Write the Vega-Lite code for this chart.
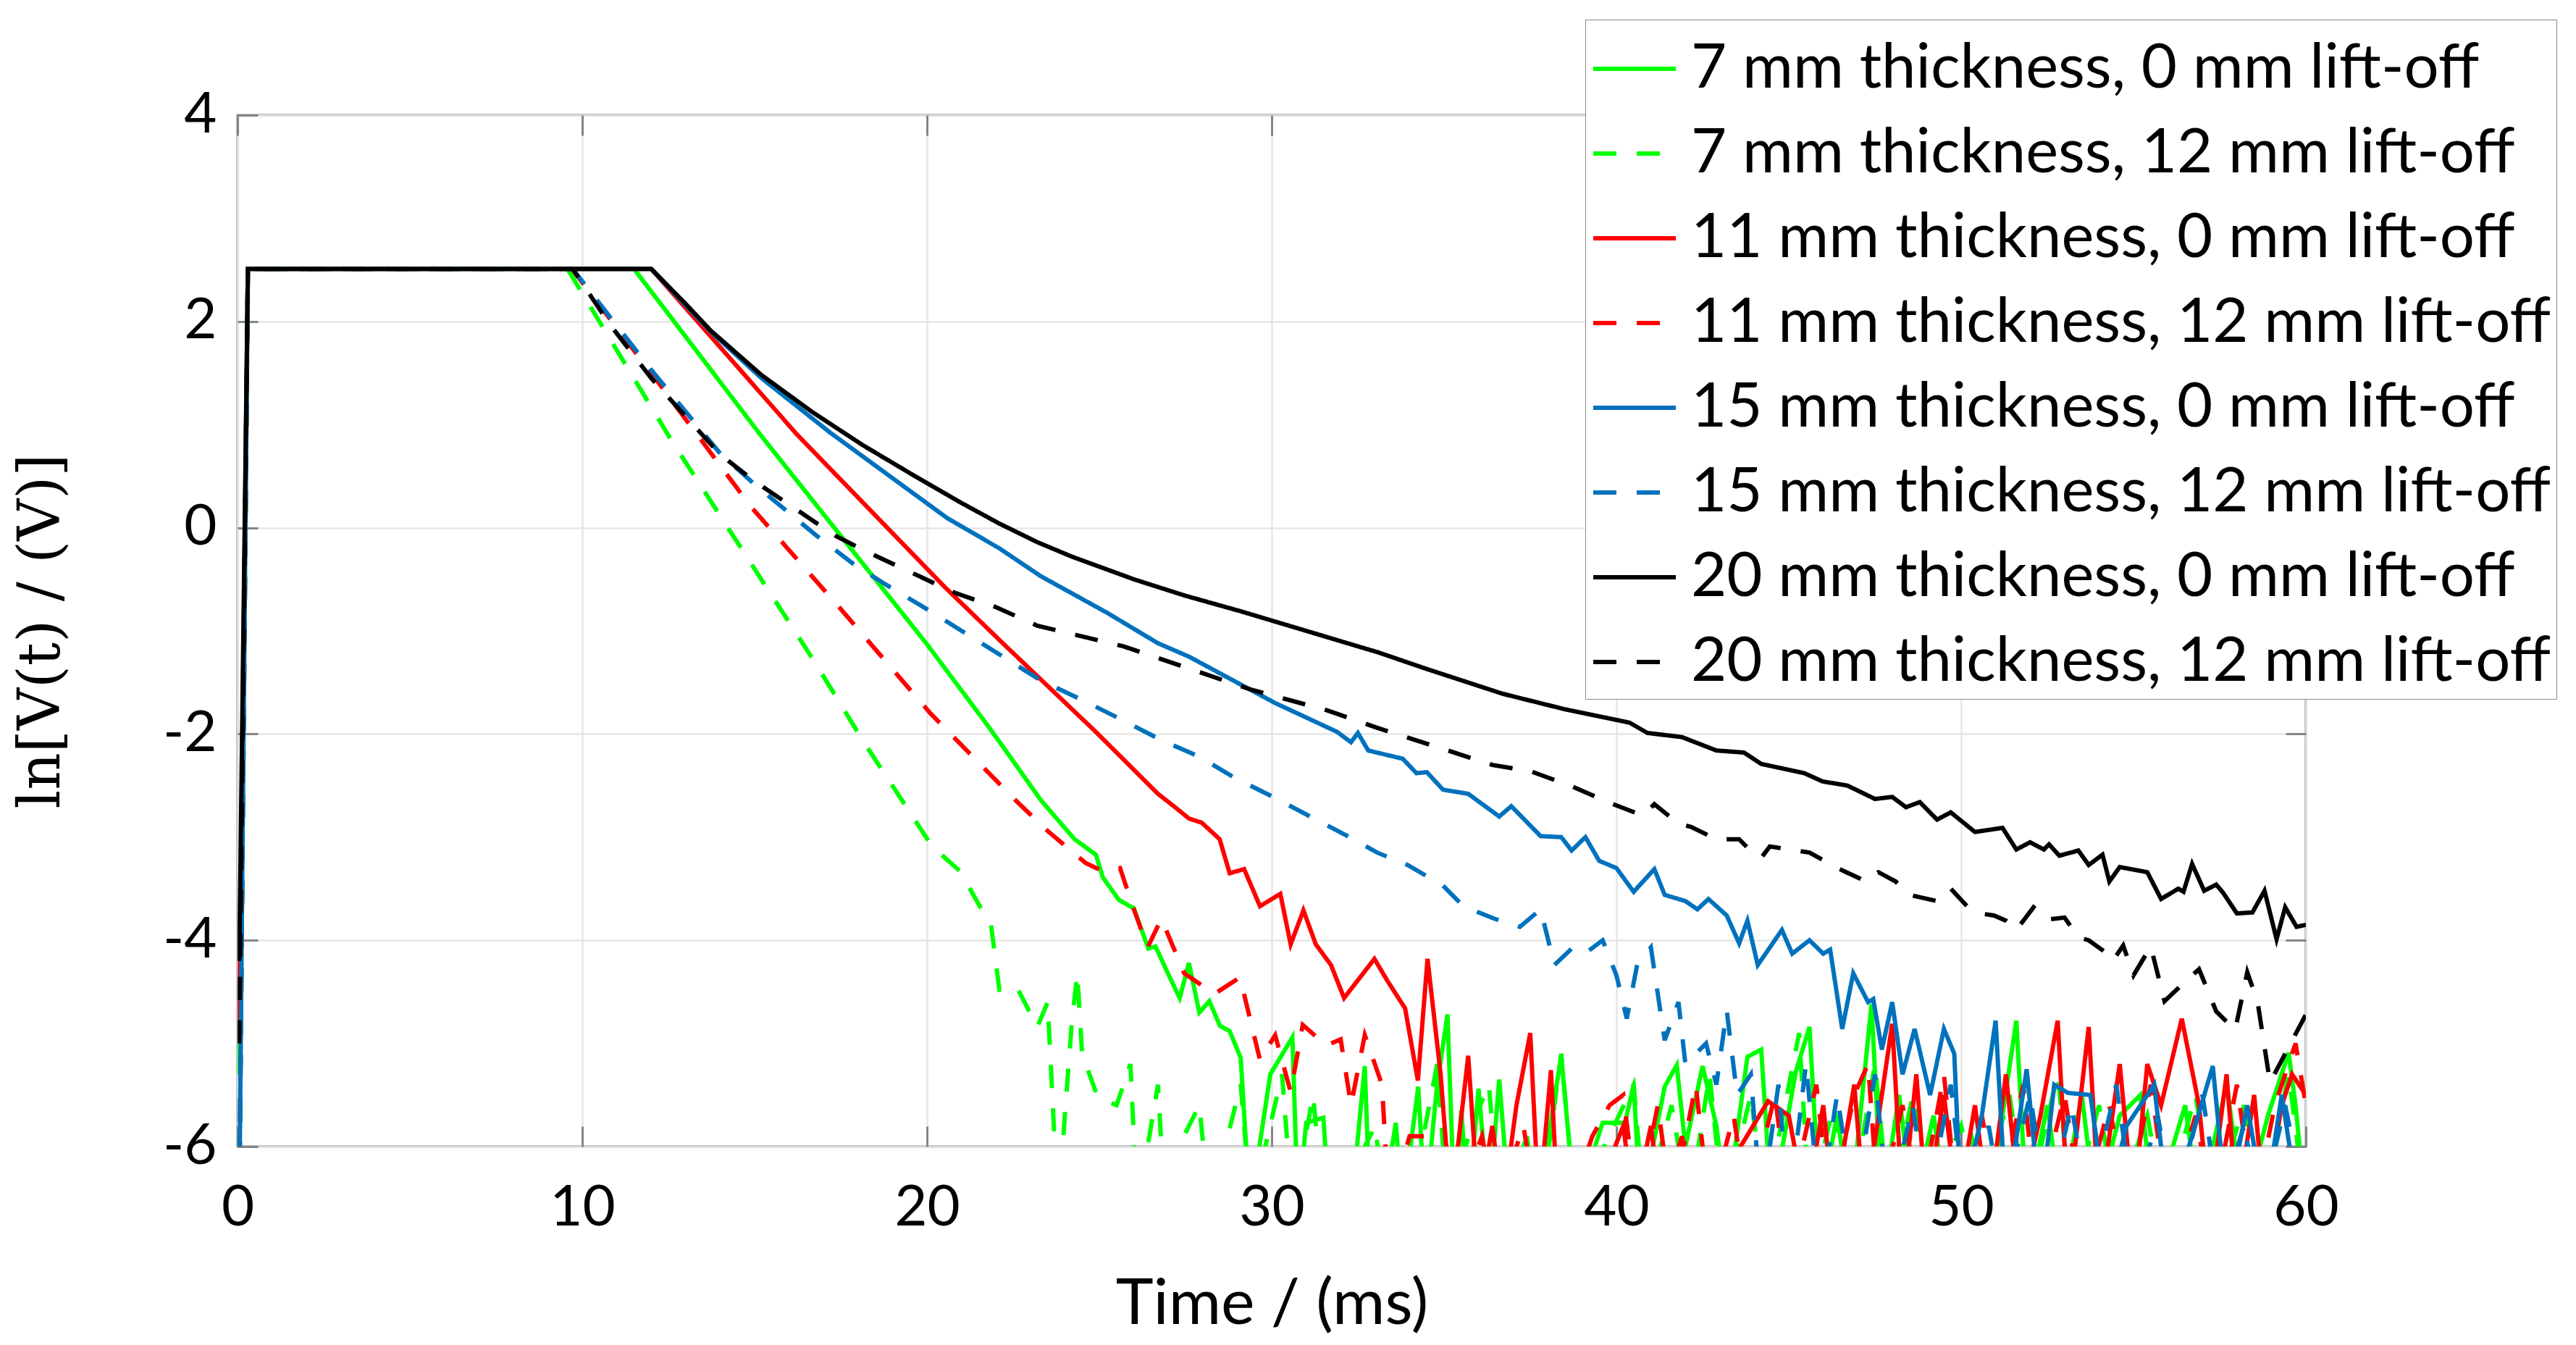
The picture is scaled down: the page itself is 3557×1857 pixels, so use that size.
{
  "$schema": "https://vega.github.io/schema/vega-lite/v6.json",
  "description": "ln V(t) decay curves",
  "width": 2856,
  "height": 1424,
  "autosize": {"type": "none"},
  "padding": {"left": 328, "top": 159, "right": 373, "bottom": 274},
  "background": "white",
  "config": {"view": {"stroke": "#858585", "strokeWidth": 3}, "font": "Lato"},
  "datasets": {
    "names": [
      {"s": "s1", "name": "7 mm thickness, 0 mm lift-off"},
      {"s": "s2", "name": "7 mm thickness, 12 mm lift-off"},
      {"s": "s3", "name": "11 mm thickness, 0 mm lift-off"},
      {"s": "s4", "name": "11 mm thickness, 12 mm lift-off"},
      {"s": "s5", "name": "15 mm thickness, 0 mm lift-off"},
      {"s": "s6", "name": "15 mm thickness, 12 mm lift-off"},
      {"s": "s7", "name": "20 mm thickness, 0 mm lift-off"},
      {"s": "s8", "name": "20 mm thickness, 12 mm lift-off"}
    ],
    "pts": [
      {"s":"s1","t":0.05,"v":-5.3},{"s":"s1","t":0.3,"v":2.51},{"s":"s1","t":11.5,"v":2.51},{"s":"s1","t":15.17,"v":0.9},
      {"s":"s1","t":20.0,"v":-1.13},{"s":"s1","t":21.7,"v":-1.89},{"s":"s1","t":22.24,"v":-2.14},{"s":"s1","t":23.3,"v":-2.64},
      {"s":"s1","t":24.28,"v":-3.02},{"s":"s1","t":24.9,"v":-3.17},{"s":"s1","t":25.1,"v":-3.39},{"s":"s1","t":25.57,"v":-3.61},
      {"s":"s1","t":26.0,"v":-3.69},{"s":"s1","t":26.42,"v":-4.08},{"s":"s1","t":26.63,"v":-4.06},{"s":"s1","t":26.96,"v":-4.3},
      {"s":"s1","t":27.33,"v":-4.56},{"s":"s1","t":27.6,"v":-4.22},{"s":"s1","t":27.9,"v":-4.7},{"s":"s1","t":28.19,"v":-4.59},
      {"s":"s1","t":28.5,"v":-4.83},{"s":"s1","t":28.78,"v":-4.88},{"s":"s1","t":29.1,"v":-5.14},{"s":"s1","t":29.37,"v":-6.6},
      {"s":"s1","t":29.96,"v":-5.3},{"s":"s1","t":30.6,"v":-4.94},{"s":"s1","t":30.76,"v":-6.6},{"s":"s1","t":31.0,"v":-5.77},
      {"s":"s1","t":31.5,"v":-5.72},{"s":"s1","t":31.67,"v":-6.6},{"s":"s1","t":32.3,"v":-6.6},{"s":"s1","t":32.7,"v":-5.22},
      {"s":"s1","t":32.85,"v":-6.6},{"s":"s1","t":33.3,"v":-6.4},{"s":"s1","t":33.6,"v":-5.77},{"s":"s1","t":33.8,"v":-6.6},
      {"s":"s1","t":34.25,"v":-5.42},{"s":"s1","t":34.45,"v":-6.6},{"s":"s1","t":34.8,"v":-5.4},{"s":"s1","t":35.1,"v":-4.72},
      {"s":"s1","t":35.3,"v":-6.6},{"s":"s1","t":35.5,"v":-5.65},{"s":"s1","t":35.7,"v":-6.6},{"s":"s1","t":36.0,"v":-5.44},
      {"s":"s1","t":36.3,"v":-6.6},{"s":"s1","t":36.6,"v":-5.35},{"s":"s1","t":36.9,"v":-6.6},{"s":"s1","t":37.4,"v":-5.9},
      {"s":"s1","t":37.7,"v":-6.6},{"s":"s1","t":38.4,"v":-5.12},{"s":"s1","t":38.8,"v":-6.6},{"s":"s1","t":39.6,"v":-5.77},
      {"s":"s1","t":40.25,"v":-5.77},{"s":"s1","t":40.5,"v":-5.4},{"s":"s1","t":40.7,"v":-6.6},{"s":"s1","t":41.4,"v":-5.42},
      {"s":"s1","t":41.75,"v":-5.21},{"s":"s1","t":42.0,"v":-6.0},{"s":"s1","t":42.5,"v":-5.22},{"s":"s1","t":42.9,"v":-5.8},
      {"s":"s1","t":43.2,"v":-6.6},{"s":"s1","t":43.8,"v":-5.13},{"s":"s1","t":44.2,"v":-5.06},{"s":"s1","t":44.5,"v":-6.6},
      {"s":"s1","t":45.2,"v":-5.28},{"s":"s1","t":45.6,"v":-4.84},{"s":"s1","t":45.9,"v":-6.6},{"s":"s1","t":46.4,"v":-5.7},
      {"s":"s1","t":46.8,"v":-6.6},{"s":"s1","t":47.4,"v":-4.62},{"s":"s1","t":47.7,"v":-6.6},{"s":"s1","t":48.2,"v":-5.5},
      {"s":"s1","t":48.6,"v":-6.6},{"s":"s1","t":49.2,"v":-5.7},{"s":"s1","t":49.6,"v":-6.6},{"s":"s1","t":50.3,"v":-5.9},
      {"s":"s1","t":50.8,"v":-6.6},{"s":"s1","t":51.6,"v":-4.78},{"s":"s1","t":51.9,"v":-6.6},{"s":"s1","t":52.5,"v":-5.6},
      {"s":"s1","t":52.9,"v":-6.6},{"s":"s1","t":53.5,"v":-5.5},{"s":"s1","t":53.9,"v":-6.6},{"s":"s1","t":54.6,"v":-5.7},
      {"s":"s1","t":55.2,"v":-5.5},{"s":"s1","t":55.6,"v":-6.6},{"s":"s1","t":56.5,"v":-5.6},{"s":"s1","t":56.9,"v":-6.6},
      {"s":"s1","t":57.7,"v":-5.4},{"s":"s1","t":58.2,"v":-6.6},{"s":"s1","t":58.9,"v":-5.7},{"s":"s1","t":59.5,"v":-5.09},
      {"s":"s1","t":59.7,"v":-5.6},{"s":"s1","t":60,"v":-6.6},

      {"s":"s2","t":0.05,"v":-6.6},{"s":"s2","t":0.3,"v":2.51},{"s":"s2","t":9.57,"v":2.51},{"s":"s2","t":12.6,"v":0.84},
      {"s":"s2","t":16.72,"v":-1.29},{"s":"s2","t":18.17,"v":-2.08},{"s":"s2","t":20.15,"v":-3.09},{"s":"s2","t":20.96,"v":-3.33},
      {"s":"s2","t":21.6,"v":-3.71},{"s":"s2","t":21.85,"v":-3.83},{"s":"s2","t":22.1,"v":-4.48},{"s":"s2","t":22.6,"v":-4.45},
      {"s":"s2","t":23.2,"v":-4.84},{"s":"s2","t":23.5,"v":-4.6},{"s":"s2","t":23.8,"v":-6.6},{"s":"s2","t":24.2,"v":-4.8},
      {"s":"s2","t":24.36,"v":-4.32},{"s":"s2","t":24.5,"v":-5.1},{"s":"s2","t":24.95,"v":-5.52},{"s":"s2","t":25.5,"v":-5.6},
      {"s":"s2","t":25.9,"v":-5.2},{"s":"s2","t":26.1,"v":-6.6},{"s":"s2","t":26.7,"v":-5.4},{"s":"s2","t":26.9,"v":-6.6},
      {"s":"s2","t":27.3,"v":-6.0},{"s":"s2","t":27.9,"v":-5.6},{"s":"s2","t":28.2,"v":-6.6},{"s":"s2","t":29.1,"v":-5.4},
      {"s":"s2","t":29.4,"v":-6.6},{"s":"s2","t":30.3,"v":-5.3},{"s":"s2","t":30.6,"v":-6.6},{"s":"s2","t":31.2,"v":-5.5},
      {"s":"s2","t":31.5,"v":-6.6},{"s":"s2","t":32.4,"v":-6.2},{"s":"s2","t":33.0,"v":-5.8},{"s":"s2","t":33.3,"v":-6.6},
      {"s":"s2","t":34.0,"v":-6.6},{"s":"s2","t":34.8,"v":-5.2},{"s":"s2","t":35.1,"v":-6.6},{"s":"s2","t":35.8,"v":-5.8},
      {"s":"s2","t":36.3,"v":-5.4},{"s":"s2","t":36.6,"v":-6.6},{"s":"s2","t":37.3,"v":-6.0},{"s":"s2","t":37.8,"v":-6.6},
      {"s":"s2","t":38.4,"v":-5.1},{"s":"s2","t":38.8,"v":-6.6},{"s":"s2","t":39.5,"v":-6.1},{"s":"s2","t":40.5,"v":-5.4},
      {"s":"s2","t":40.8,"v":-6.6},{"s":"s2","t":41.6,"v":-5.6},{"s":"s2","t":42.1,"v":-6.6},{"s":"s2","t":42.7,"v":-5.3},
      {"s":"s2","t":43.1,"v":-6.6},{"s":"s2","t":43.9,"v":-5.5},{"s":"s2","t":44.3,"v":-6.6},{"s":"s2","t":45.3,"v":-4.9},
      {"s":"s2","t":45.6,"v":-6.6},{"s":"s2","t":46.3,"v":-5.6},{"s":"s2","t":46.8,"v":-6.6},{"s":"s2","t":47.5,"v":-5.2},
      {"s":"s2","t":47.9,"v":-6.6},{"s":"s2","t":48.6,"v":-5.5},{"s":"s2","t":49.0,"v":-6.6},{"s":"s2","t":50.0,"v":-5.8},
      {"s":"s2","t":50.5,"v":-6.6},{"s":"s2","t":51.4,"v":-5.5},{"s":"s2","t":51.9,"v":-6.6},{"s":"s2","t":52.8,"v":-5.3},
      {"s":"s2","t":53.2,"v":-6.6},{"s":"s2","t":54.0,"v":-5.6},{"s":"s2","t":54.5,"v":-6.6},{"s":"s2","t":55.4,"v":-5.7},
      {"s":"s2","t":55.9,"v":-6.6},{"s":"s2","t":56.8,"v":-5.5},{"s":"s2","t":57.3,"v":-6.6},{"s":"s2","t":58.2,"v":-5.6},
      {"s":"s2","t":58.7,"v":-6.6},{"s":"s2","t":59.5,"v":-5.3},{"s":"s2","t":60,"v":-6.6},

      {"s":"s3","t":0.05,"v":-4.8},{"s":"s3","t":0.3,"v":2.51},{"s":"s3","t":12.0,"v":2.51},{"s":"s3","t":16.24,"v":0.9},
      {"s":"s3","t":20.5,"v":-0.57},{"s":"s3","t":22.23,"v":-1.13},{"s":"s3","t":24.9,"v":-1.98},{"s":"s3","t":26.7,"v":-2.58},
      {"s":"s3","t":27.16,"v":-2.7},{"s":"s3","t":27.6,"v":-2.82},{"s":"s3","t":27.97,"v":-2.86},{"s":"s3","t":28.49,"v":-3.02},
      {"s":"s3","t":28.78,"v":-3.35},{"s":"s3","t":29.2,"v":-3.31},{"s":"s3","t":29.66,"v":-3.67},{"s":"s3","t":30.25,"v":-3.55},
      {"s":"s3","t":30.55,"v":-4.04},{"s":"s3","t":30.92,"v":-3.71},{"s":"s3","t":31.28,"v":-4.04},{"s":"s3","t":31.72,"v":-4.24},
      {"s":"s3","t":32.1,"v":-4.56},{"s":"s3","t":32.98,"v":-4.18},{"s":"s3","t":33.35,"v":-4.39},{"s":"s3","t":33.87,"v":-4.66},
      {"s":"s3","t":34.24,"v":-5.36},{"s":"s3","t":34.52,"v":-4.18},{"s":"s3","t":34.9,"v":-5.3},{"s":"s3","t":35.2,"v":-6.6},
      {"s":"s3","t":35.7,"v":-5.12},{"s":"s3","t":36.0,"v":-6.6},{"s":"s3","t":36.4,"v":-5.8},{"s":"s3","t":36.7,"v":-6.6},
      {"s":"s3","t":37.1,"v":-5.6},{"s":"s3","t":37.5,"v":-4.9},{"s":"s3","t":37.75,"v":-6.6},{"s":"s3","t":38.1,"v":-5.26},
      {"s":"s3","t":38.3,"v":-6.6},{"s":"s3","t":39.0,"v":-6.6},{"s":"s3","t":39.6,"v":-6.3},{"s":"s3","t":40.2,"v":-5.8},
      {"s":"s3","t":40.5,"v":-6.6},{"s":"s3","t":41.0,"v":-5.8},{"s":"s3","t":41.3,"v":-6.6},{"s":"s3","t":41.9,"v":-5.9},
      {"s":"s3","t":42.3,"v":-6.6},{"s":"s3","t":43.2,"v":-6.4},{"s":"s3","t":43.6,"v":-6.0},{"s":"s3","t":44.4,"v":-5.56},
      {"s":"s3","t":45.0,"v":-5.7},{"s":"s3","t":45.5,"v":-6.6},{"s":"s3","t":46.0,"v":-5.6},{"s":"s3","t":46.3,"v":-6.6},
      {"s":"s3","t":46.9,"v":-5.4},{"s":"s3","t":47.2,"v":-6.6},{"s":"s3","t":47.7,"v":-5.5},{"s":"s3","t":48.0,"v":-4.81},
      {"s":"s3","t":48.3,"v":-6.6},{"s":"s3","t":48.7,"v":-5.3},{"s":"s3","t":49.0,"v":-6.6},{"s":"s3","t":49.5,"v":-5.5},
      {"s":"s3","t":49.9,"v":-6.6},{"s":"s3","t":50.4,"v":-5.6},{"s":"s3","t":50.8,"v":-6.6},{"s":"s3","t":51.3,"v":-5.3},
      {"s":"s3","t":51.7,"v":-6.6},{"s":"s3","t":52.3,"v":-5.7},{"s":"s3","t":52.8,"v":-4.78},{"s":"s3","t":53.1,"v":-6.6},
      {"s":"s3","t":53.7,"v":-4.84},{"s":"s3","t":54.0,"v":-6.6},{"s":"s3","t":54.6,"v":-5.2},{"s":"s3","t":55.0,"v":-6.6},
      {"s":"s3","t":55.4,"v":-5.2},{"s":"s3","t":55.8,"v":-5.6},{"s":"s3","t":56.4,"v":-4.76},{"s":"s3","t":56.9,"v":-5.6},
      {"s":"s3","t":57.2,"v":-6.6},{"s":"s3","t":57.7,"v":-5.3},{"s":"s3","t":58.0,"v":-6.6},{"s":"s3","t":58.5,"v":-5.5},
      {"s":"s3","t":58.8,"v":-6.6},{"s":"s3","t":59.3,"v":-5.6},{"s":"s3","t":59.6,"v":-5.3},{"s":"s3","t":60,"v":-5.5},

      {"s":"s4","t":0.05,"v":-6.6},{"s":"s4","t":0.3,"v":2.51},{"s":"s4","t":9.7,"v":2.51},{"s":"s4","t":12.0,"v":1.5},
      {"s":"s4","t":14.9,"v":0.2},{"s":"s4","t":17.4,"v":-0.75},{"s":"s4","t":20.1,"v":-1.8},{"s":"s4","t":22.56,"v":-2.64},
      {"s":"s4","t":23.5,"v":-2.94},{"s":"s4","t":24.6,"v":-3.25},{"s":"s4","t":25.1,"v":-3.33},{"s":"s4","t":25.6,"v":-3.3},
      {"s":"s4","t":25.97,"v":-3.67},{"s":"s4","t":26.4,"v":-4.07},{"s":"s4","t":26.8,"v":-3.79},{"s":"s4","t":27.46,"v":-4.32},
      {"s":"s4","t":28.34,"v":-4.52},{"s":"s4","t":29.08,"v":-4.36},{"s":"s4","t":29.4,"v":-4.8},{"s":"s4","t":29.66,"v":-5.16},
      {"s":"s4","t":30.1,"v":-4.92},{"s":"s4","t":30.55,"v":-5.47},{"s":"s4","t":30.9,"v":-4.82},{"s":"s4","t":31.58,"v":-5.02},
      {"s":"s4","t":32.0,"v":-4.96},{"s":"s4","t":32.3,"v":-5.6},{"s":"s4","t":32.7,"v":-4.92},{"s":"s4","t":33.2,"v":-5.4},
      {"s":"s4","t":33.4,"v":-6.6},{"s":"s4","t":34.0,"v":-5.9},{"s":"s4","t":34.6,"v":-5.9},{"s":"s4","t":35.3,"v":-6.6},
      {"s":"s4","t":36.1,"v":-5.9},{"s":"s4","t":36.5,"v":-6.6},{"s":"s4","t":37.3,"v":-5.8},{"s":"s4","t":37.7,"v":-6.6},
      {"s":"s4","t":38.6,"v":-6.6},{"s":"s4","t":39.3,"v":-5.9},{"s":"s4","t":39.8,"v":-5.6},{"s":"s4","t":40.2,"v":-5.5},
      {"s":"s4","t":40.6,"v":-6.6},{"s":"s4","t":41.2,"v":-5.6},{"s":"s4","t":41.6,"v":-6.6},{"s":"s4","t":42.3,"v":-5.4},
      {"s":"s4","t":42.7,"v":-6.6},{"s":"s4","t":43.4,"v":-5.7},{"s":"s4","t":43.8,"v":-6.6},{"s":"s4","t":44.6,"v":-5.5},
      {"s":"s4","t":45.0,"v":-6.6},{"s":"s4","t":45.8,"v":-5.4},{"s":"s4","t":46.2,"v":-6.6},{"s":"s4","t":46.9,"v":-5.5},
      {"s":"s4","t":47.3,"v":-5.2},{"s":"s4","t":47.6,"v":-6.6},{"s":"s4","t":48.3,"v":-5.6},{"s":"s4","t":48.8,"v":-6.6},
      {"s":"s4","t":49.5,"v":-5.3},{"s":"s4","t":49.9,"v":-6.6},{"s":"s4","t":50.6,"v":-5.7},{"s":"s4","t":51.1,"v":-6.6},
      {"s":"s4","t":51.8,"v":-5.4},{"s":"s4","t":52.2,"v":-6.6},{"s":"s4","t":53.0,"v":-5.5},{"s":"s4","t":53.5,"v":-6.6},
      {"s":"s4","t":54.3,"v":-5.6},{"s":"s4","t":54.8,"v":-6.6},{"s":"s4","t":55.5,"v":-5.4},{"s":"s4","t":56.0,"v":-6.6},
      {"s":"s4","t":56.8,"v":-5.7},{"s":"s4","t":57.3,"v":-6.6},{"s":"s4","t":58.0,"v":-5.4},{"s":"s4","t":58.5,"v":-6.6},
      {"s":"s4","t":59.1,"v":-5.6},{"s":"s4","t":59.7,"v":-5.0},{"s":"s4","t":60,"v":-5.6},

      {"s":"s5","t":0.05,"v":-6.6},{"s":"s5","t":0.3,"v":2.51},{"s":"s5","t":12.0,"v":2.51},{"s":"s5","t":13.73,"v":1.9},
      {"s":"s5","t":15.2,"v":1.45},{"s":"s5","t":17.2,"v":0.92},{"s":"s5","t":20.6,"v":0.09},{"s":"s5","t":22.1,"v":-0.2},
      {"s":"s5","t":23.3,"v":-0.47},{"s":"s5","t":25.2,"v":-0.82},{"s":"s5","t":26.7,"v":-1.12},{"s":"s5","t":27.6,"v":-1.25},
      {"s":"s5","t":30.1,"v":-1.7},{"s":"s5","t":31.9,"v":-1.98},{"s":"s5","t":32.3,"v":-2.08},{"s":"s5","t":32.5,"v":-1.99},
      {"s":"s5","t":32.8,"v":-2.16},{"s":"s5","t":33.8,"v":-2.24},{"s":"s5","t":34.2,"v":-2.38},{"s":"s5","t":34.5,"v":-2.37},
      {"s":"s5","t":34.97,"v":-2.54},{"s":"s5","t":35.7,"v":-2.58},{"s":"s5","t":36.6,"v":-2.8},{"s":"s5","t":36.95,"v":-2.7},
      {"s":"s5","t":37.8,"v":-2.99},{"s":"s5","t":38.4,"v":-3.0},{"s":"s5","t":38.7,"v":-3.13},{"s":"s5","t":39.1,"v":-3.0},
      {"s":"s5","t":39.5,"v":-3.23},{"s":"s5","t":40.0,"v":-3.3},{"s":"s5","t":40.5,"v":-3.53},{"s":"s5","t":41.1,"v":-3.31},
      {"s":"s5","t":41.4,"v":-3.56},{"s":"s5","t":42.0,"v":-3.62},{"s":"s5","t":42.35,"v":-3.7},{"s":"s5","t":42.67,"v":-3.6},
      {"s":"s5","t":43.2,"v":-3.76},{"s":"s5","t":43.56,"v":-4.03},{"s":"s5","t":43.8,"v":-3.81},{"s":"s5","t":44.1,"v":-4.24},
      {"s":"s5","t":44.8,"v":-3.9},{"s":"s5","t":45.1,"v":-4.13},{"s":"s5","t":45.6,"v":-4.0},{"s":"s5","t":46.0,"v":-4.13},
      {"s":"s5","t":46.2,"v":-4.09},{"s":"s5","t":46.55,"v":-4.86},{"s":"s5","t":46.87,"v":-4.32},{"s":"s5","t":47.3,"v":-4.6},
      {"s":"s5","t":47.45,"v":-4.57},{"s":"s5","t":47.7,"v":-5.06},{"s":"s5","t":48.0,"v":-4.6},{"s":"s5","t":48.3,"v":-5.3},
      {"s":"s5","t":48.65,"v":-4.86},{"s":"s5","t":49.1,"v":-5.5},{"s":"s5","t":49.5,"v":-4.86},{"s":"s5","t":49.8,"v":-5.1},
      {"s":"s5","t":50.0,"v":-6.6},{"s":"s5","t":50.6,"v":-5.7},{"s":"s5","t":51.0,"v":-4.78},{"s":"s5","t":51.3,"v":-6.6},
      {"s":"s5","t":51.9,"v":-5.25},{"s":"s5","t":52.3,"v":-6.6},{"s":"s5","t":52.7,"v":-5.4},{"s":"s5","t":53.1,"v":-5.48},
      {"s":"s5","t":53.75,"v":-5.5},{"s":"s5","t":54.2,"v":-6.6},{"s":"s5","t":54.8,"v":-5.8},{"s":"s5","t":55.6,"v":-5.4},
      {"s":"s5","t":56.0,"v":-6.6},{"s":"s5","t":56.7,"v":-5.9},{"s":"s5","t":57.3,"v":-5.22},{"s":"s5","t":57.7,"v":-6.6},
      {"s":"s5","t":58.3,"v":-5.6},{"s":"s5","t":58.8,"v":-6.6},{"s":"s5","t":59.3,"v":-5.5},{"s":"s5","t":59.8,"v":-6.6},
      {"s":"s5","t":60,"v":-6.0},

      {"s":"s6","t":0.05,"v":-6.6},{"s":"s6","t":0.3,"v":2.51},{"s":"s6","t":9.72,"v":2.51},{"s":"s6","t":12.0,"v":1.53},
      {"s":"s6","t":14.0,"v":0.72},{"s":"s6","t":15.0,"v":0.42},{"s":"s6","t":16.77,"v":-0.07},{"s":"s6","t":17.86,"v":-0.35},
      {"s":"s6","t":18.8,"v":-0.55},{"s":"s6","t":20.0,"v":-0.79},{"s":"s6","t":22.3,"v":-1.27},{"s":"s6","t":23.3,"v":-1.48},
      {"s":"s6","t":24.5,"v":-1.67},{"s":"s6","t":25.7,"v":-1.87},{"s":"s6","t":26.8,"v":-2.06},{"s":"s6","t":27.9,"v":-2.22},
      {"s":"s6","t":28.9,"v":-2.42},{"s":"s6","t":30.1,"v":-2.62},{"s":"s6","t":31.0,"v":-2.78},{"s":"s6","t":32.2,"v":-2.99},
      {"s":"s6","t":33.06,"v":-3.15},{"s":"s6","t":33.94,"v":-3.27},{"s":"s6","t":34.97,"v":-3.47},{"s":"s6","t":35.56,"v":-3.67},
      {"s":"s6","t":36.45,"v":-3.79},{"s":"s6","t":37.2,"v":-3.87},{"s":"s6","t":37.8,"v":-3.7},{"s":"s6","t":38.2,"v":-4.24},
      {"s":"s6","t":38.8,"v":-4.05},{"s":"s6","t":39.2,"v":-4.1},{"s":"s6","t":39.6,"v":-4.0},{"s":"s6","t":40.0,"v":-4.34},
      {"s":"s6","t":40.3,"v":-4.76},{"s":"s6","t":40.6,"v":-4.24},{"s":"s6","t":41.0,"v":-4.07},{"s":"s6","t":41.4,"v":-4.97},
      {"s":"s6","t":41.8,"v":-4.6},{"s":"s6","t":42.0,"v":-5.2},{"s":"s6","t":42.6,"v":-5.0},{"s":"s6","t":42.9,"v":-5.4},
      {"s":"s6","t":43.2,"v":-4.68},{"s":"s6","t":43.5,"v":-5.5},{"s":"s6","t":43.9,"v":-5.3},{"s":"s6","t":44.2,"v":-6.6},
      {"s":"s6","t":44.7,"v":-5.4},{"s":"s6","t":45.0,"v":-6.6},{"s":"s6","t":45.5,"v":-5.2},{"s":"s6","t":45.9,"v":-6.6},
      {"s":"s6","t":46.4,"v":-5.5},{"s":"s6","t":46.9,"v":-6.6},{"s":"s6","t":47.5,"v":-5.3},{"s":"s6","t":47.9,"v":-6.6},
      {"s":"s6","t":48.6,"v":-5.6},{"s":"s6","t":49.0,"v":-6.6},{"s":"s6","t":49.7,"v":-5.4},{"s":"s6","t":50.1,"v":-6.6},
      {"s":"s6","t":50.8,"v":-5.8},{"s":"s6","t":51.2,"v":-6.6},{"s":"s6","t":52.0,"v":-5.5},{"s":"s6","t":52.5,"v":-6.6},
      {"s":"s6","t":53.2,"v":-5.6},{"s":"s6","t":53.7,"v":-6.6},{"s":"s6","t":54.5,"v":-5.4},{"s":"s6","t":55.0,"v":-6.6},
      {"s":"s6","t":55.7,"v":-5.7},{"s":"s6","t":56.2,"v":-6.6},{"s":"s6","t":57.0,"v":-5.5},{"s":"s6","t":57.5,"v":-6.6},
      {"s":"s6","t":58.2,"v":-5.8},{"s":"s6","t":58.7,"v":-6.6},{"s":"s6","t":59.4,"v":-5.6},{"s":"s6","t":60,"v":-6.6},

      {"s":"s7","t":0.05,"v":-4.2},{"s":"s7","t":0.3,"v":2.51},{"s":"s7","t":12.0,"v":2.51},{"s":"s7","t":13.0,"v":2.17},
      {"s":"s7","t":13.73,"v":1.91},{"s":"s7","t":15.2,"v":1.48},{"s":"s7","t":16.68,"v":1.12},{"s":"s7","t":18.14,"v":0.8},
      {"s":"s7","t":19.6,"v":0.51},{"s":"s7","t":21.0,"v":0.24},{"s":"s7","t":22.1,"v":0.04},{"s":"s7","t":23.2,"v":-0.14},
      {"s":"s7","t":24.2,"v":-0.28},{"s":"s7","t":26.0,"v":-0.5},{"s":"s7","t":27.5,"v":-0.66},
      {"s":"s7","t":29.1,"v":-0.81},{"s":"s7","t":31.0,"v":-1.0},{"s":"s7","t":33.1,"v":-1.21},{"s":"s7","t":34.5,"v":-1.37},
      {"s":"s7","t":36.7,"v":-1.61},{"s":"s7","t":38.5,"v":-1.76},{"s":"s7","t":40.38,"v":-1.89},{"s":"s7","t":40.9,"v":-1.99},
      {"s":"s7","t":41.9,"v":-2.03},{"s":"s7","t":42.9,"v":-2.16},{"s":"s7","t":43.7,"v":-2.18},{"s":"s7","t":44.2,"v":-2.29},
      {"s":"s7","t":45.45,"v":-2.38},{"s":"s7","t":45.98,"v":-2.46},{"s":"s7","t":46.7,"v":-2.5},{"s":"s7","t":47.5,"v":-2.63},
      {"s":"s7","t":48.0,"v":-2.61},{"s":"s7","t":48.4,"v":-2.71},{"s":"s7","t":48.8,"v":-2.66},{"s":"s7","t":49.3,"v":-2.83},
      {"s":"s7","t":49.7,"v":-2.76},{"s":"s7","t":50.4,"v":-2.95},{"s":"s7","t":51.2,"v":-2.91},{"s":"s7","t":51.6,"v":-3.12},
      {"s":"s7","t":52.0,"v":-3.05},{"s":"s7","t":52.4,"v":-3.12},{"s":"s7","t":52.55,"v":-3.07},{"s":"s7","t":52.85,"v":-3.18},
      {"s":"s7","t":53.4,"v":-3.13},{"s":"s7","t":53.7,"v":-3.27},{"s":"s7","t":54.1,"v":-3.17},{"s":"s7","t":54.3,"v":-3.43},
      {"s":"s7","t":54.6,"v":-3.29},{"s":"s7","t":55.4,"v":-3.34},{"s":"s7","t":55.8,"v":-3.6},{"s":"s7","t":56.3,"v":-3.5},
      {"s":"s7","t":56.45,"v":-3.53},{"s":"s7","t":56.7,"v":-3.26},{"s":"s7","t":57.05,"v":-3.52},{"s":"s7","t":57.4,"v":-3.46},
      {"s":"s7","t":57.6,"v":-3.54},{"s":"s7","t":58.0,"v":-3.74},{"s":"s7","t":58.45,"v":-3.73},{"s":"s7","t":58.8,"v":-3.52},
      {"s":"s7","t":59.15,"v":-3.99},{"s":"s7","t":59.4,"v":-3.68},{"s":"s7","t":59.73,"v":-3.87},{"s":"s7","t":60,"v":-3.85},

      {"s":"s8","t":0.05,"v":-5.0},{"s":"s8","t":0.3,"v":2.51},{"s":"s8","t":9.72,"v":2.51},{"s":"s8","t":10.78,"v":1.98},
      {"s":"s8","t":12.0,"v":1.45},{"s":"s8","t":14.0,"v":0.71},{"s":"s8","t":15.0,"v":0.45},{"s":"s8","t":17.35,"v":-0.08},
      {"s":"s8","t":18.3,"v":-0.24},{"s":"s8","t":20.8,"v":-0.63},{"s":"s8","t":22.0,"v":-0.77},{"s":"s8","t":23.2,"v":-0.95},
      {"s":"s8","t":25.7,"v":-1.15},{"s":"s8","t":29.4,"v":-1.57},{"s":"s8","t":31.6,"v":-1.77},{"s":"s8","t":33.06,"v":-1.94},
      {"s":"s8","t":35.3,"v":-2.18},{"s":"s8","t":36.4,"v":-2.3},{"s":"s8","t":37.5,"v":-2.36},{"s":"s8","t":38.65,"v":-2.5},
      {"s":"s8","t":39.9,"v":-2.68},{"s":"s8","t":40.76,"v":-2.79},{"s":"s8","t":41.1,"v":-2.68},{"s":"s8","t":41.8,"v":-2.87},
      {"s":"s8","t":42.16,"v":-2.9},{"s":"s8","t":42.9,"v":-3.02},{"s":"s8","t":43.56,"v":-3.02},{"s":"s8","t":43.8,"v":-3.1},
      {"s":"s8","t":44.2,"v":-3.2},{"s":"s8","t":44.45,"v":-3.09},{"s":"s8","t":45.6,"v":-3.15},{"s":"s8","t":46.2,"v":-3.26},
      {"s":"s8","t":46.6,"v":-3.33},{"s":"s8","t":47.25,"v":-3.43},{"s":"s8","t":47.6,"v":-3.34},{"s":"s8","t":48.1,"v":-3.43},
      {"s":"s8","t":48.5,"v":-3.56},{"s":"s8","t":49.3,"v":-3.62},{"s":"s8","t":49.7,"v":-3.5},{"s":"s8","t":50.2,"v":-3.68},
      {"s":"s8","t":50.56,"v":-3.74},{"s":"s8","t":50.95,"v":-3.76},{"s":"s8","t":51.3,"v":-3.81},{"s":"s8","t":51.6,"v":-3.9},
      {"s":"s8","t":52.1,"v":-3.68},{"s":"s8","t":52.5,"v":-3.8},{"s":"s8","t":53.0,"v":-3.78},{"s":"s8","t":53.4,"v":-3.97},
      {"s":"s8","t":53.7,"v":-4.0},{"s":"s8","t":54.2,"v":-4.12},{"s":"s8","t":54.4,"v":-4.2},{"s":"s8","t":54.7,"v":-4.05},
      {"s":"s8","t":55.0,"v":-4.34},{"s":"s8","t":55.5,"v":-4.06},{"s":"s8","t":55.9,"v":-4.59},{"s":"s8","t":56.5,"v":-4.4},
      {"s":"s8","t":56.9,"v":-4.28},{"s":"s8","t":57.4,"v":-4.69},{"s":"s8","t":57.95,"v":-4.87},{"s":"s8","t":58.3,"v":-4.31},
      {"s":"s8","t":58.6,"v":-4.6},{"s":"s8","t":58.96,"v":-5.38},{"s":"s8","t":59.4,"v":-5.1},{"s":"s8","t":60,"v":-4.72}
    ]
  },
  "data": {"name": "pts"},
  "transform": [
    {"lookup": "s", "from": {"data": {"name": "names"}, "key": "s", "fields": ["name"]}}
  ],
  "layer": [
    {
      "mark": {"type": "line", "clip": true},
      "encoding": {
        "x": {
          "field": "t", "type": "quantitative",
          "scale": {"domain": [0, 60], "nice": false, "zero": false},
          "axis": {
            "orient": "bottom", "values": [0, 10, 20, 30, 40, 50, 60],
            "grid": true, "gridColor": "#e6e6e6", "gridWidth": 2.5,
            "ticks": false, "domain": false, "labelFlush": false,
            "labelFontSize": 78, "labelColor": "#000", "labelPadding": 46,
            "title": "Time / (ms)", "titleFontSize": 88, "titleFontWeight": "normal",
            "titleColor": "#000", "titlePadding": 50
          }
        },
        "y": {
          "field": "v", "type": "quantitative",
          "scale": {"domain": [-6, 4], "nice": false, "zero": false},
          "axis": {
            "orient": "left", "values": [-6, -4, -2, 0, 2, 4],
            "labelExpr": "toString(datum.value)",
            "grid": true, "gridColor": "#e6e6e6", "gridWidth": 2.5,
            "ticks": false, "domain": false, "labelFlush": false,
            "labelFontSize": 78, "labelColor": "#000", "labelPadding": 29,
            "title": "ln[V(t) / (V)]", "titleFont": "DejaVu Serif", "titleFontSize": 80,
            "titleFontWeight": "normal", "titleColor": "#000",
            "titleX": -271, "titleY": 712, "titleAngle": 270,
            "titleAlign": "center", "titleBaseline": "middle"
          }
        },
        "color": {
          "field": "name", "type": "nominal",
          "scale": {
            "domain": [
              "7 mm thickness, 0 mm lift-off", "7 mm thickness, 12 mm lift-off",
              "11 mm thickness, 0 mm lift-off", "11 mm thickness, 12 mm lift-off",
              "15 mm thickness, 0 mm lift-off", "15 mm thickness, 12 mm lift-off",
              "20 mm thickness, 0 mm lift-off", "20 mm thickness, 12 mm lift-off"
            ],
            "range": ["#00ff00", "#00ff00", "#ff0000", "#ff0000", "#0072bd", "#0072bd", "#000000", "#000000"]
          },
          "legend": {
            "orient": "none", "legendX": 1861, "legendY": -132,
            "title": null, "symbolType": "stroke", "symbolSize": 12996,
            "symbolStrokeWidth": 6, "labelFontSize": 85, "labelFont": "Lato",
            "labelColor": "#000", "labelOffset": 18, "labelLimit": 2000,
            "rowPadding": 14, "padding": 8, "strokeColor": "#8a8a8a",
            "fillColor": "white", "cornerRadius": 0
          }
        },
        "strokeDash": {
          "field": "name", "type": "nominal",
          "scale": {
            "domain": [
              "7 mm thickness, 0 mm lift-off", "7 mm thickness, 12 mm lift-off",
              "11 mm thickness, 0 mm lift-off", "11 mm thickness, 12 mm lift-off",
              "15 mm thickness, 0 mm lift-off", "15 mm thickness, 12 mm lift-off",
              "20 mm thickness, 0 mm lift-off", "20 mm thickness, 12 mm lift-off"
            ],
            "range": [[1, 0], [32, 28], [1, 0], [32, 28], [1, 0], [32, 28], [1, 0], [32, 28]]
          }
        },
        "strokeWidth": {
          "field": "name", "type": "nominal",
          "scale": {
            "domain": [
              "7 mm thickness, 0 mm lift-off", "7 mm thickness, 12 mm lift-off",
              "11 mm thickness, 0 mm lift-off", "11 mm thickness, 12 mm lift-off",
              "15 mm thickness, 0 mm lift-off", "15 mm thickness, 12 mm lift-off",
              "20 mm thickness, 0 mm lift-off", "20 mm thickness, 12 mm lift-off"
            ],
            "range": [6, 6, 6, 6, 6, 6, 7, 7]
          },
          "legend": null
        }
      }
    },
    {
      "mark": {"type": "line", "opacity": 0, "clip": true},
      "encoding": {
        "x": {
          "field": "t", "type": "quantitative",
          "axis": {
            "orient": "bottom", "values": [0, 10, 20, 30, 40, 50, 60],
            "labels": false, "grid": false, "domain": false, "title": null,
            "tickSize": -28, "tickWidth": 3, "tickColor": "#858585"
          }
        },
        "y": {
          "field": "v", "type": "quantitative",
          "axis": {
            "orient": "left", "values": [-6, -4, -2, 0, 2, 4],
            "labels": false, "grid": false, "domain": false, "title": null,
            "tickSize": -28, "tickWidth": 3, "tickColor": "#858585"
          }
        }
      }
    },
    {
      "mark": {"type": "line", "opacity": 0, "clip": true},
      "encoding": {
        "x": {
          "field": "t", "type": "quantitative",
          "axis": {
            "orient": "top", "values": [0, 10, 20, 30, 40, 50, 60],
            "labels": false, "grid": false, "domain": false, "title": null,
            "tickSize": -28, "tickWidth": 3, "tickColor": "#858585"
          }
        },
        "y": {
          "field": "v", "type": "quantitative",
          "axis": {
            "orient": "right", "values": [-6, -4, -2, 0, 2, 4],
            "labels": false, "grid": false, "domain": false, "title": null,
            "tickSize": -28, "tickWidth": 3, "tickColor": "#858585"
          }
        }
      }
    }
  ],
  "resolve": {"axis": {"x": "independent", "y": "independent"}}
}
